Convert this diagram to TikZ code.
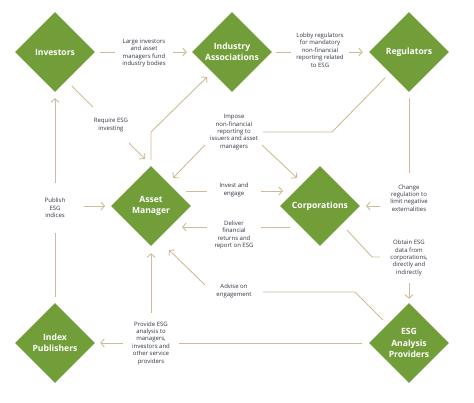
\documentclass[tikz,border=0pt]{standalone}
\usepackage{fontspec}
\setmainfont{Open Sans}
\usetikzlibrary{shapes.geometric,arrows.meta,backgrounds}
\definecolor{esggreen}{RGB}{114,158,58}
\definecolor{linetan}{RGB}{206,188,152}
\definecolor{txtdark}{RGB}{48,52,66}
\begin{document}
\begin{tikzpicture}[x=1pt,y=-1pt,
  dia/.style={diamond, aspect=1, fill=esggreen, minimum width=80pt, minimum height=80pt,
    inner sep=0pt, text=white, font=\bfseries\fontsize{8.6}{11.5}\selectfont, align=center},
  lbl/.style={text=txtdark, font=\fontsize{6}{7.4}\selectfont, align=center, inner sep=0pt},
  mask/.style={fill=white},
  ln/.style={draw=linetan, line width=0.9pt},
  arr/.style={ln, -{Straight Barb[length=3.5pt,width=8pt]}}]
\useasboundingbox (0,0) rectangle (474,403);

% main boxes
\node[dia] (inv) at (55,52) {Investors};
\node[dia] (ia) at (232,52) {Industry\\Associations};
\node[dia] (reg) at (409,52) {Regulators};
\node[dia] (am) at (151,206) {Asset\\Manager};
\node[dia] (corp) at (320,206) {Corporations};
\node[dia] (ip) at (55,343) {Index\\Publishers};
\node[dia] (esg) at (409,343) {ESG\\Analysis\\Providers};

% labels
\node[lbl, mask, inner xsep=7pt, inner ysep=2pt] (lfund) at (144,53) {Large investors\\and asset\\managers fund\\industry bodies};
\node[lbl, mask, inner xsep=5pt, inner ysep=2pt] (llobby) at (320,50) {Lobby regulators\\for mandatory\\non-financial\\reporting related\\to ESG};
\node[lbl, mask, inner xsep=1pt, inner ysep=12pt] (lreq) at (111,125) {Require ESG\\investing};
\node[lbl] (imp) at (234,132) {Impose\\non-financial\\reporting to\\issuers and asset\\managers};
\node[lbl, mask, inner xsep=13pt, inner ysep=2pt] (linv) at (234,190) {Invest and\\engage};
\node[lbl, mask, inner xsep=8pt, inner ysep=2pt] (ldel) at (234,235) {Deliver\\financial\\returns and\\report on ESG};
\node[lbl] (chg) at (409,198) {Change\\regulation to\\limit negative\\externalities};
\node[lbl] (obt) at (409,258) {Obtain ESG\\data from\\corporations,\\directly and\\indirectly};
\node[lbl] (adv) at (234,291) {Advise on\\engagement};
\node[lbl, mask, inner xsep=9pt, inner ysep=2pt] (prov) at (151,343) {Provide ESG\\analysis to\\managers,\\investors and\\other service\\providers};
\node[lbl, mask, inner xsep=2pt, inner ysep=15pt] (pub) at (55,208) {Publish\\ESG\\indices};

\begin{scope}[on background layer]
\draw[arr, shorten <=5pt, shorten >=5pt] (inv.east) -- (ia.west);
\draw[arr, shorten <=4pt, shorten >=6pt] (ia.east) -- (reg.west);
\draw[arr] ([shift={(17,34)}]inv.center) -- ([shift={(-6,-47)}]am.center);
\draw[arr] ([shift={(0,-6)}]am.north) -- (am.north |- imp.center) -- ([shift={(-25,25)}]ia.center);
\draw[ln] ([shift={(-24,26)}]reg.center) -- ++(-53,54) -- ([shift={(29,0)}]imp.center);
\draw[arr] ([shift={(-29,13)}]imp.center) -- ([shift={(22,-28)}]am.center);
\draw[arr] ([shift={(28,13)}]imp.center) -- ([shift={(-23,-28)}]corp.center);
\draw[arr] ([shift={(35,-15)}]am.center) -- ([shift={(-37,-15)}]corp.center);
\draw[arr] ([shift={(-30,21)}]corp.center) -- ([shift={(31,21)}]am.center);
\draw[ln] ([shift={(0,6)}]reg.south) -- ([shift={(0,-25)}]chg.center);
\draw[arr] ([shift={(-29,8)}]chg.center) -- ([shift={(46,0)}]corp.center);
\draw[ln] ([shift={(27,24)}]corp.center) -- ++(25,27) -- ([shift={(-29,-1)}]obt.center);
\draw[arr] ([shift={(0,25)}]obt.center) -- ([shift={(0,-4)}]esg.north);
\draw[ln] ([shift={(-26,-23)}]esg.center) -- ++(-28,-28) -- ([shift={(29,1)}]adv.center);
\draw[arr] ([shift={(-29,-6)}]adv.center) -- ([shift={(18,44)}]am.center);
\draw[arr, shorten <=7pt, shorten >=5pt] (esg.west) -- (ip.east);
\draw[arr] ([shift={(0,-30)}]prov.center) -- ([shift={(0,7)}]am.south);
\draw[arr, shorten <=6pt, shorten >=6pt] (ip.north) -- (inv.south);
\draw[arr] ([shift={(29,-2)}]pub.center) -- ([shift={(-46,0)}]am.center);
\end{scope}
\end{tikzpicture}
\end{document}
